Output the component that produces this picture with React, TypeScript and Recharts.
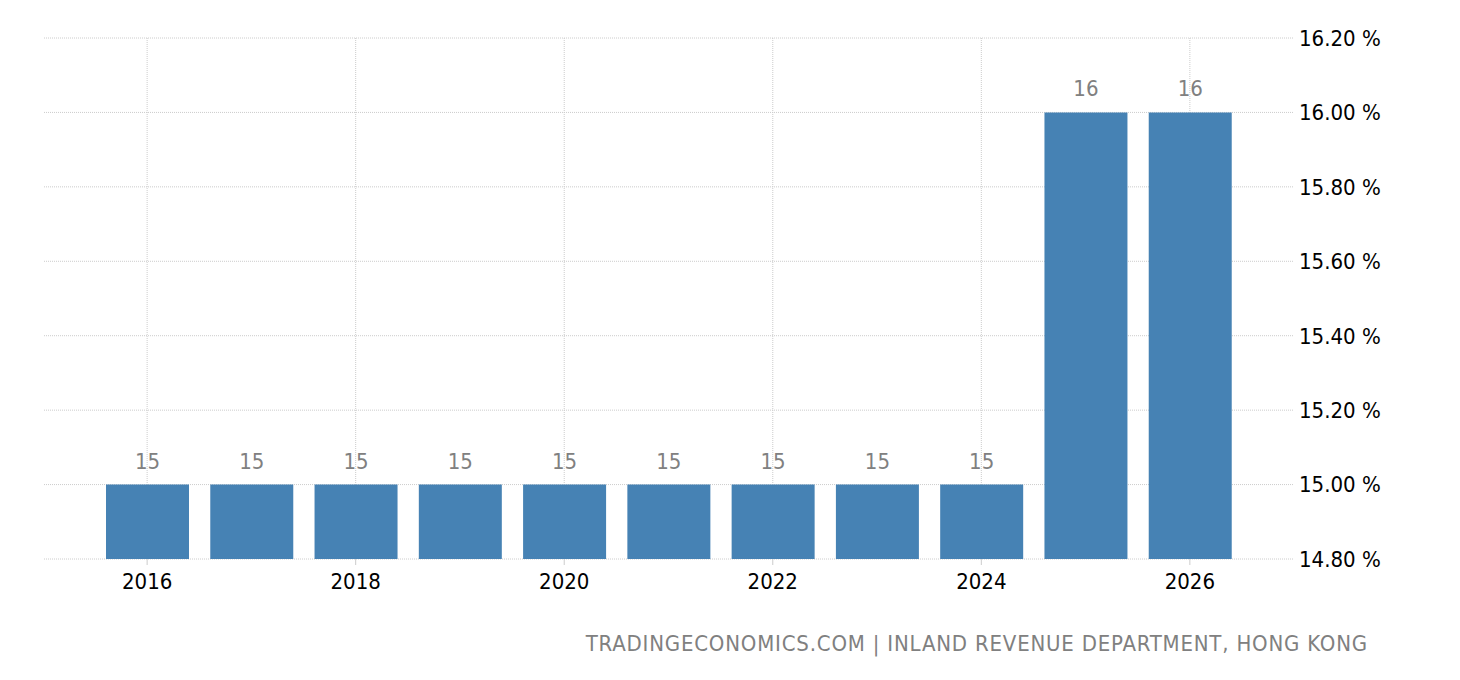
import React from "react";
import {
  BarChart,
  Bar,
  XAxis,
  YAxis,
  CartesianGrid,
  LabelList,
} from "recharts";

// corporate tax rate, Hong Kong
const years = ["2016", "2017", "2018", "2019", "2020", "2021", "2022", "2023", "2024", "2025", "2026"];
const rates = [15, 15, 15, 15, 15, 15, 15, 15, 15, 16, 16];
const yearTicks = ["2016", "2018", "2020", "2022", "2024", "2026"];
const rateTicks = [14.8, 15, 15.2, 15.4, 15.6, 15.8, 16, 16.2];

const FONT = "'DejaVu Sans Condensed', 'DejaVu Sans', sans-serif";
const X_PAD = 51;

const data = years.map((year, i) => ({ year, rate: rates[i] }));

// vertical grid only at the labelled years, nothing on the plot edges
const verticalGrid = ({ offset }: any) => {
  if (!offset) return [];
  const band = (offset.width - 2 * X_PAD) / years.length;
  return yearTicks.map(
    (t) => offset.left + X_PAD + band * (years.indexOf(t) + 0.5)
  );
};

const App = () => {
  return (
    <div style={{ position: "relative", width: 1452, height: 672, fontFamily: FONT }}>
      <BarChart
        width={1452}
        height={600}
        data={data}
        margin={{ top: 30, right: 0, left: 36, bottom: 0 }}
        barSize={83}
      >
        <CartesianGrid
          stroke="#cccccc"
          strokeDasharray="1 1"
          verticalCoordinatesGenerator={verticalGrid}
        />
        <XAxis
          dataKey="year"
          ticks={yearTicks}
          height={49}
          padding={{ left: X_PAD, right: X_PAD }}
          axisLine={false}
          tickLine={{ stroke: "#cccccc" }}
          tickSize={6}
          tickMargin={8}
          tick={{ fill: "#000000", fontSize: 22, fontFamily: FONT }}
        />
        <YAxis
          orientation="right"
          width={167}
          domain={[14.8, 16.2]}
          ticks={rateTicks}
          allowDataOverflow
          axisLine={false}
          tickLine={false}
          tickSize={0}
          tickMargin={6}
          tick={{ fill: "#000000", fontSize: 22, fontFamily: FONT, textAnchor: "start" }}
          tickFormatter={(v: number) => `${v.toFixed(2)} %`}
        />
        <Bar dataKey="rate" fill="#4682b4" isAnimationActive={false}>
          <LabelList
            dataKey="rate"
            position="top"
            offset={16}
            fill="#808080"
            fontSize={22}
            fontFamily={FONT}
          />
        </Bar>
      </BarChart>
      <div
        style={{
          position: "absolute",
          right: 1452 - 1360,
          top: 623,
          fontSize: 22,
          letterSpacing: 0.8,
          color: "#808080",
          whiteSpace: "nowrap",
        }}
      >
        TRADINGECONOMICS.COM | INLAND REVENUE DEPARTMENT, HONG KONG
      </div>
    </div>
  );
};

export default App;
